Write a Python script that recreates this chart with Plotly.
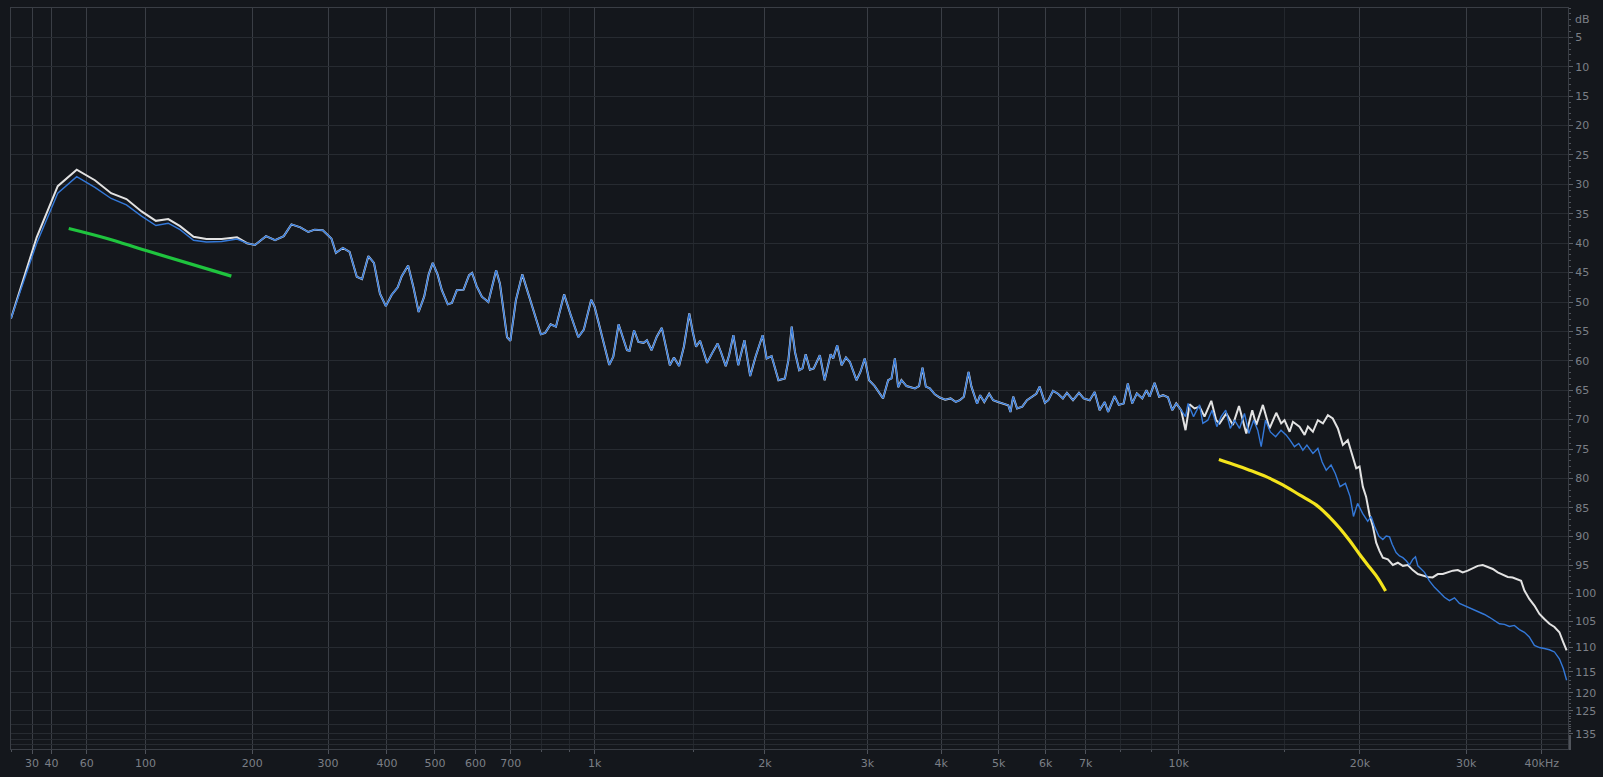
import numpy as np
import plotly.graph_objects as go

# ---------------- data ----------------
# low band: the two channels differ
LOW_FREQ = [20, 32.3, 43.3, 54, 65, 75.5, 86, 97, 108, 118, 128, 140, 152, 167, 183]
LOW_WHITE_DB = [52.8, 39.0, 30.3, 27.5, 29.3, 31.5, 32.5, 34.6, 36.2, 35.9, 37.1, 38.9, 39.3, 39.3, 39.0]
LOW_BLUE_DB = [52.8, 40.0, 31.5, 28.7, 30.5, 32.4, 33.5, 35.4, 37.0, 36.6, 37.7, 39.5, 39.8, 39.7, 39.3]

# mid band: both channels practically identical
MID_FREQ = [194, 203, 216, 227, 238, 248, 260, 271, 280, 292, 305, 312, 323, 334, 346, 355,
            366, 376, 387, 398, 409, 421, 429, 442, 453, 464, 476, 486, 495, 506, 516, 530,
            540, 552, 569, 583, 591, 603, 617, 635, 657, 668, 679, 689, 699, 716, 736, 761,
            797, 812, 831, 850, 880, 905, 934, 956, 986, 1000, 1030, 1063, 1081, 1105,
            1144, 1156, 1178, 1199, 1225, 1242, 1266, 1293, 1320, 1338, 1364, 1387, 1416, 1444,
            1476, 1497, 1517, 1542, 1586, 1620, 1655, 1677, 1710, 1733, 1763, 1798, 1843, 1886,
            1927, 1982, 2014, 2054, 2111, 2166, 2196, 2225, 2254, 2292, 2322, 2352, 2391, 2428,
            2487, 2535, 2595, 2622, 2663, 2710, 2757, 2800, 2873, 2918, 2968, 3019, 3086, 3189,
            3253, 3296, 3340, 3383, 3427, 3495, 3550, 3612, 3671, 3720, 3769, 3828, 3903,
            3979, 4064, 4150, 4235, 4302, 4370, 4450, 4500, 4540, 4600, 4655, 4730, 4820, 4895,
            4990, 5090, 5190, 5235, 5290, 5370, 5480, 5580, 5675, 5785, 5860, 5980, 6060, 6170,
            6290, 6410, 6510, 6665, 6820, 6945, 7106, 7245,
            7384, 7530, 7630, 7820, 7950, 8100, 8230, 8370, 8520, 8700, 8840, 8948, 9120, 9280,
            9420, 9600, 9760, 9910, 10100]
MID_DB = [40.0, 40.3, 38.8, 39.5, 38.8, 36.8, 37.3, 38.1, 37.7, 37.8, 39.2, 41.65, 40.8, 41.5, 45.7, 46.1,
          42.2, 43.35, 48.6, 50.7, 48.8, 47.5, 45.6, 43.8, 47.5, 51.7, 49.1, 45.3, 43.35, 45.3, 48.0, 50.4,
          50.15, 48.0, 47.9, 45.45, 45.05, 47.3, 49.1, 50.0, 44.6, 46.9, 51.4, 56.0, 56.6, 49.7, 45.3, 49.7,
          55.5, 55.25, 53.8, 54.2, 48.7, 52.25, 56.0, 54.7, 49.6, 50.8, 55.36, 60.7, 59.3, 53.8,
          58.2, 58.3, 54.8, 56.8, 56.95, 56.5, 58.2, 55.9, 54.4, 56.8, 60.75, 59.45, 60.9, 57.6,
          51.96, 55.1, 57.6, 56.6, 60.35, 58.65, 57.06, 58.5, 60.9, 59.05, 55.65, 60.75, 56.5, 62.6,
          59.3, 55.65, 59.6, 59.2, 63.3, 63.0, 59.9, 54.2, 58.5, 61.6, 61.3, 58.9, 61.5, 61.3,
          59.05, 63.3, 58.9, 59.6, 57.35, 60.75, 59.45, 60.2, 63.3, 61.9, 59.6, 63.3, 64.3, 66.4,
          63.3, 63.0, 59.6, 64.5, 63.3, 64.3, 64.5, 64.7, 64.3, 61.15, 64.4, 64.7, 65.7,
          66.24, 66.6, 66.4, 67.0, 66.7, 66.1, 61.9, 64.4, 65.6, 67.3, 65.85, 67.0, 65.6, 66.7,
          67.0, 67.3, 67.55, 68.7, 66.1, 68.1, 67.8, 66.7, 66.24, 65.6, 64.4, 67.15, 66.7, 65.1,
          65.6, 66.4, 65.45, 66.7, 65.45, 66.4, 66.7, 65.3,
          68.4, 67.0, 68.7, 66.0, 67.5, 67.25, 63.85, 67.25, 65.55, 66.4, 65.0, 66.1, 63.75, 66.1,
          65.85, 66.2, 68.4, 67.25, 68.4]

# high band: channels diverge
HIGH_WHITE_FREQ = [10270, 10430, 10630, 10837, 11045, 11336, 11550, 11703, 12008, 12313, 12604, 12960,
                   13260, 13466, 13810, 14167, 14534, 14809, 15000, 15294, 15490, 15884, 16197, 16405,
                   16718, 17038, 17371, 17703, 18036, 18391, 18746, 19101, 19471, 19724, 19976, 20228,
                   20481, 20750, 21018, 21287, 21555, 21832, 22257, 22682, 23116, 23567, 24016, 24470,
                   24951, 25432, 25914, 26397, 26929, 27441, 27946, 28510, 29055, 29601, 30183, 30764,
                   31346, 31953, 32573, 33193, 33826, 34485, 35145, 35804, 36506, 36974, 37443, 38145,
                   38895, 39645, 40398, 41180, 41978, 42775, 43417, 43968]
HIGH_WHITE_DB = [71.8, 67.4, 68.1, 67.8, 69.5, 66.8, 70.1, 70.65, 68.95, 70.9, 67.7, 72.35,
                 68.4, 70.9, 67.5, 71.5, 68.84, 70.65, 70.1, 72.07, 70.37, 71.2, 72.6, 71.2,
                 72.07, 70.1, 70.65, 69.24, 69.8, 71.5, 74.3, 73.5, 76.3, 78.3, 78.0, 81.4,
                 83.1, 86.2, 88.2, 91.05, 92.5, 93.7, 94.0, 95.0, 94.6, 95.15, 95.0, 95.9,
                 96.6, 96.9, 97.1, 97.2, 96.6, 96.6, 96.3, 96.0, 95.9, 96.3, 96.0, 95.6,
                 95.15, 95.0, 95.3, 95.7, 96.3, 96.7, 97.1, 97.2, 97.65, 97.8, 99.5, 101.0,
                 102.2, 103.7, 104.6, 105.5, 106.1, 107.1, 109.0, 110.6]

HIGH_BLUE_FREQ = [10270, 10370, 10590, 10837, 10975, 11185, 11370, 11580, 11770, 11980, 12190, 12390,
                  12630, 12870, 13090, 13330, 13540, 13720, 13950, 14210, 14500, 14800, 15090, 15320,
                  15580, 15840, 16090, 16340, 16720, 17040, 17320, 17590, 17920, 18210, 18540, 18930,
                  19270, 19520, 19830, 20210, 20610, 20880, 21150, 21500, 21832, 22115, 22400, 22625,
                  22965, 23266, 23567, 23867, 24166, 24470, 24727, 24951, 25272, 25593, 26074, 26586,
                  27099, 27611, 28146, 28692, 29237, 29795, 30377, 30958, 31540, 32160, 32780, 33400,
                  34045, 34705, 35364, 36038, 36740, 37443, 38145, 38895, 39645, 40398, 41180, 41978,
                  42775, 43417, 43968]
HIGH_BLUE_DB = [69.5, 67.25, 69.5, 67.5, 70.65, 70.1, 68.4, 71.2, 69.5, 68.4, 71.5, 70.1,
                71.5, 68.95, 72.35, 70.1, 71.8, 74.6, 70.1, 72.1, 72.9, 71.8, 72.6, 73.5,
                74.6, 74.05, 75.2, 74.35, 75.75, 74.9, 77.2, 78.6, 77.7, 79.15, 81.4, 80.85,
                83.1, 86.5, 84.25, 85.95, 87.35, 86.5, 88.2, 89.9, 90.5, 89.9, 90.05, 91.35,
                92.8, 93.4, 93.7, 94.26, 95.0, 94.0, 93.55, 95.15, 95.7, 96.3, 97.8, 98.95,
                99.8, 100.7, 101.3, 100.8, 101.8, 102.2, 102.5, 103.0, 103.4, 103.8, 104.3, 104.9,
                105.5, 105.6, 106.0, 105.8, 106.6, 107.1, 108.0, 109.6, 110.0, 110.2, 110.45, 110.9,
                112.3, 114.3, 117.0]

# hand-drawn guide curves
GREEN_FREQ = [49.4, 72.8, 101, 177]
GREEN_DB = [37.5, 39.2, 41.3, 45.6]
YELLOW_FREQ = [11670, 12313, 13122, 13983, 14901, 15884, 16927, 17814, 18509, 19219, 19976, 20750, 21421, 22063]
YELLOW_DB = [76.8, 77.6, 78.6, 79.7, 81.1, 82.8, 84.5, 86.6, 88.5, 90.65, 93.1, 95.4, 97.3, 99.6]

# axis ticks
X_TICK_FREQ = [30, 40, 60, 100, 200, 300, 400, 500, 600, 700, 1000, 2000, 3000, 4000,
               5000, 6000, 7000, 10000, 20000, 30000, 40000]
X_TICK_TEXT = ["30", "40", "60", "100", "200", "300", "400", "500", "600", "700", "1k", "2k",
               "3k", "4k", "5k", "6k", "7k", "10k", "20k", "30k", "40kHz"]
X_MINOR_FREQ = [20, 800, 900, 1500, 8000, 9000, 15000]
Y_GRID_DB = list(range(5, 151, 5))
Y_HIDDEN_LABELS = [130, 140, 145, 150]

# ---------------- analyzer scale definitions ----------------
FREQ_RANGE = [20, 44200]
FREQ_WARP_HZ = 100.0          # frequency axis ~ log(f + 100 Hz)
DB_KNOTS = [0, 5, 40, 85, 90, 95, 100, 105, 110, 115, 120, 125, 130, 135, 140, 145, 150]
DB_SCALE = [0.0, 0.0396, 0.3174, 0.6745, 0.7134, 0.7517, 0.7899, 0.8275, 0.8631,
            0.8960, 0.9242, 0.9483, 0.9667, 0.9796, 0.9876, 0.9940, 1.0]


def fx(f):
    return np.log2(np.asarray(f, dtype=float) + FREQ_WARP_HZ)


def fy(db):
    return np.interp(np.asarray(db, dtype=float), DB_KNOTS, DB_SCALE)


BG = "#14171c"
TXT = "#7b7f86"
FONT = dict(family="DejaVu Sans", size=11, color=TXT)

white_f = LOW_FREQ + MID_FREQ + HIGH_WHITE_FREQ
white_db = LOW_WHITE_DB + MID_DB + HIGH_WHITE_DB
blue_f = LOW_FREQ + MID_FREQ + HIGH_BLUE_FREQ
blue_db = LOW_BLUE_DB + MID_DB + HIGH_BLUE_DB

fig = go.Figure()
fig.add_trace(go.Scatter(x=fx(white_f), y=fy(white_db), mode="lines",
                         line=dict(color="#e2e2e2", width=2.0), hoverinfo="skip", name="L"))
fig.add_trace(go.Scatter(x=fx(blue_f), y=fy(blue_db), mode="lines",
                         line=dict(color="#3479d9", width=1.4), hoverinfo="skip", name="R"))
fig.add_trace(go.Scatter(x=fx(GREEN_FREQ), y=fy(GREEN_DB), mode="lines",
                         line=dict(color="#1fc43e", width=3.2, shape="spline"), hoverinfo="skip"))
fig.add_trace(go.Scatter(x=fx(YELLOW_FREQ), y=fy(YELLOW_DB), mode="lines",
                         line=dict(color="#f4e41c", width=3.2, shape="spline"), hoverinfo="skip"))

y_text = ["" if d in Y_HIDDEN_LABELS else str(d) for d in Y_GRID_DB]

fig.update_layout(
    width=1603, height=777,
    margin=dict(l=11, r=35, t=7, b=25),
    paper_bgcolor=BG, plot_bgcolor=BG,
    showlegend=False,
    font=FONT,
    xaxis=dict(
        range=[float(fx(FREQ_RANGE[0])), float(fx(FREQ_RANGE[1]))],
        tickmode="array", tickvals=fx(X_TICK_FREQ), ticktext=X_TICK_TEXT,
        showgrid=True, gridcolor="#3a3e45", gridwidth=1,
        ticks="outside", ticklen=4, tickcolor="#4e525a",
        showline=True, mirror=True, linecolor="#3a3e45", linewidth=1,
        zeroline=False, tickfont=FONT,
        minor=dict(tickmode="array", tickvals=fx(X_MINOR_FREQ), ticks="outside", ticklen=2,
                   tickcolor="#4e525a", showgrid=True, gridcolor="#23272d"),
    ),
    yaxis=dict(
        range=[1.0, 0.0], side="right",
        tickmode="array", tickvals=fy(Y_GRID_DB), ticktext=y_text,
        showgrid=True, gridcolor="#272b31", gridwidth=1,
        ticks="outside", ticklen=4, tickcolor="#5a5e65",
        showline=True, mirror=True, linecolor="#3a3e45", linewidth=1,
        zeroline=False, tickfont=FONT,
        minor=dict(tickmode="array", tickvals=fy(list(range(0, 151))), ticks="outside",
                   ticklen=2, tickcolor="#50545b", showgrid=False),
    ),
    annotations=[dict(x=1.0, xref="paper", y=float(fy(2.0)), yref="y", text="dB",
                      showarrow=False, xanchor="left", xshift=5, font=FONT)],
)

fig.write_html(
    "out.html",
    config={"displayModeBar": False},
    post_script="document.body.style.margin='0';document.body.style.background='#14171c';"
                "document.documentElement.style.overflow='hidden';",
)
